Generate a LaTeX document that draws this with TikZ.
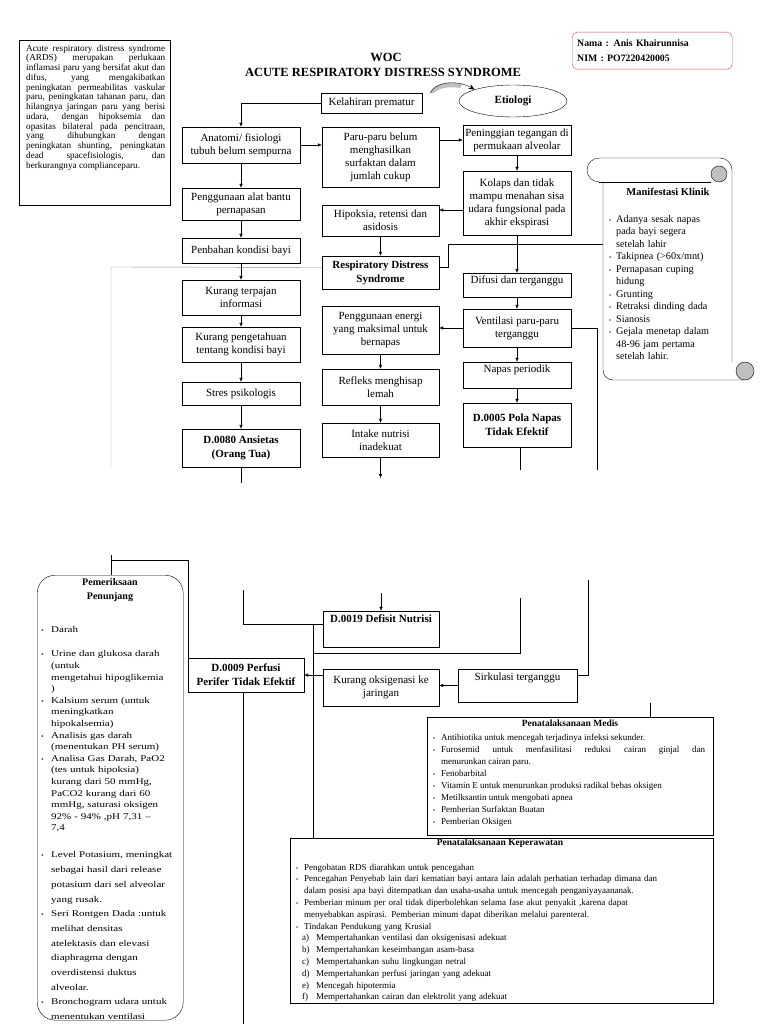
\documentclass[tikz,border=0pt]{standalone}
\usepackage{fontspec}
\setmainfont{Liberation Serif}
\newfontfamily\lebar[FakeStretch=1.25]{Liberation Serif}
\usetikzlibrary{
    positioning,
    calc,
    shapes.geometric,
    arrows.meta
}
\definecolor{MerahBingkai}{HTML}{C0504D}
\definecolor{AbuGulung}{HTML}{BFBFBF}
\definecolor{AbuGaris}{HTML}{8C8C8C}

\newcommand{\butir}[1][8pt]{\par\noindent\hangindent=#1\hangafter=1\makebox[#1][l]{\fontsize{6}{6}\selectfont\textbullet}\ignorespaces}
\newcommand{\subbutir}[1]{\par\noindent\hangindent=20pt\hangafter=1\hspace*{6pt}\makebox[14pt][l]{#1}\ignorespaces}

\tikzset{
    kotak/.style={draw, thin, align=center, inner xsep=0pt, inner ysep=2pt, font=\fontsize{11}{13}\selectfont},
    kotakTebal/.style={kotak, font=\fontsize{11}{14}\selectfont\bfseries},
    daftar/.style={anchor=north west, inner sep=0pt, align=left},
    panah/.style={-{Latex[length=4pt,width=3.5pt]}, thin},
    garis/.style={thin}
}

\begin{document}
\begin{tikzpicture}[x=1pt,y=-1pt]
\useasboundingbox (0,0) rectangle (768,1024);

% keterangan ARDS
\node[draw, thin, minimum width=151, minimum height=165, anchor=north west] (definisi) at (19,40) {};
\node[anchor=north west, inner sep=0pt, text width=139, align=justify,
      font=\fontsize{9.2}{9.75}\selectfont] (teksDefinisi) at (26,44.5) {%
    Acute respiratory distress syndrome\linebreak
    (ARDS) merupakan perlukaan\linebreak
    inflamasi paru yang bersifat akut dan\linebreak
    difus, yang mengakibatkan\linebreak
    peningkatan permeabilitas vaskular\linebreak
    paru, peningkatan tahanan paru, dan\linebreak
    hilangnya jaringan paru yang berisi\linebreak
    udara, dengan hipoksemia dan\linebreak
    opasitas bilateral pada pencitraan,\linebreak
    yang dihubungkan dengan\linebreak
    peningkatan shunting, peningkatan\linebreak
    dead spacefisiologis, dan\linebreak
    berkurangnya complianceparu.};

% judul
\node[font=\fontsize{12.5}{14}\selectfont\bfseries] (judul) at (386,57) {WOC};
\node[font=\fontsize{12.5}{14}\selectfont\bfseries] (subjudul) at (383,72) {ACUTE RESPIRATORY DISTRESS SYNDROME};

\node[draw=MerahBingkai, rounded corners=5pt, anchor=north west,
      minimum width=160, minimum height=37, text width=150, inner sep=5pt,
      align=left, font=\fontsize{9.8}{15}\selectfont\bfseries] (nama) at (572,32)
    {Nama : Anis Khairunnisa\\NIM : PO7220420005};

% etiologi
\node[kotak, minimum width=101, minimum height=20] (kelahiran) at (371.5,103) {Kelahiran prematur};
\node[draw, thin, ellipse, minimum width=108, minimum height=32,
      font=\fontsize{11}{12}\selectfont\bfseries] (etiologi) at (513,101) {Etiologi};
\fill[AbuGulung] ($(kelahiran.north east)+(8,0)$) .. controls (434,84) and (448,81) .. (462,84)
    -- (460,88) .. controls (449,86) and (439,88) .. ($(kelahiran.north east)+(12,0)$) -- cycle;
\draw[-{Stealth[length=6pt,width=5pt]}, thin] ($(kelahiran.north east)+(8,0)$) .. controls (436,81) and (458,80) .. (etiologi.north west);

% kolom kiri
\node[kotak, minimum width=118, minimum height=36] (anatomi) at (241,145) {Anatomi/ fisiologi\\tubuh belum sempurna};
\node[kotak, minimum width=118, minimum height=32] (alatBantu) at (241,204) {Penggunaan alat bantu\\pernapasan};
\node[kotak, minimum width=118, minimum height=25] (perubahan) at (241,250.5) {Penbahan kondisi bayi};
\node[kotak, minimum width=118, minimum height=35] (terpajan) at (241,297.5) {Kurang terpajan\\informasi};
\node[kotak, minimum width=118, minimum height=35] (pengetahuan) at (241,344.5) {Kurang pengetahuan\\tentang kondisi bayi};
\node[kotak, minimum width=118, minimum height=23] (stres) at (241,393.5) {Stres psikologis};
\node[kotakTebal, minimum width=118, minimum height=38] (ansietas) at (241,448) {D.0080 Ansietas\\(Orang Tua)};

% kolom tengah
\node[kotak, minimum width=117, minimum height=60] (paru) at (380.5,157) {Paru-paru belum\\menghasilkan\\surfaktan dalam\\jumlah cukup};
\node[kotak, minimum width=117, minimum height=31] (hipoksia) at (380.5,220.5) {Hipoksia, retensi dan\\asidosis};
\node[kotakTebal, minimum width=117, minimum height=33] (rds) at (380.5,272.5) {Respiratory Distress\\Syndrome};
\node[kotak, minimum width=117, minimum height=48] (energi) at (380.5,330) {Penggunaan energi\\yang maksimal untuk\\bernapas};
\node[kotak, minimum width=117, minimum height=36] (refleks) at (380.5,387) {Refleks menghisap\\lemah};
\node[kotak, minimum width=117, minimum height=34] (intake) at (380.5,440) {Intake nutrisi\\inadekuat};

% kolom kanan
\node[kotak, minimum width=108, minimum height=30] (peninggian) at (517,140) {Peninggian tegangan di\\permukaan alveolar};
\node[kotak, minimum width=108, minimum height=64] (kolaps) at (517,203) {Kolaps dan tidak\\mampu menahan sisa\\udara fungsional pada\\akhir ekspirasi};
\node[kotak, minimum width=108, minimum height=24, text height=8pt, text depth=12pt] (difusi) at (517,285) {Difusi dan terganggu};
\node[kotak, minimum width=108, minimum height=38] (ventilasi) at (517,328) {Ventilasi paru-paru\\terganggu};
\node[kotak, minimum width=108, minimum height=26, text height=8pt, text depth=14pt] (napas) at (517,375) {Napas periodik};
\node[kotakTebal, minimum width=108, minimum height=44] (pola) at (517,425) {D.0005 Pola Napas\\Tidak Efektif};

% manifestasi klinik (gulungan)
\draw[thin] (599,182) arc[start angle=90, end angle=270, radius=12] -- (720,158)
    arc[start angle=270, end angle=360, radius=12] -- (732,362);
\draw[thin] (599,182) -- (711,182);
\draw[thin, fill=AbuGulung] (719,174) circle (8);
\draw[thin] (603,182) -- (603,370) arc[start angle=180, end angle=90, radius=10] -- (745,380);
\draw[thin, fill=AbuGulung] (745,371) circle (9);
\coordinate (kiriGulungan) at (603,244);
\node[font=\fontsize{10.5}{12}\selectfont\bfseries] (judulManifestasi) at (668,192) {Manifestasi Klinik};
\node[daftar, text width=124, font=\fontsize{10.2}{12.5}\selectfont] (manifestasi) at (609,209.5) {%
    \butir[7pt] Adanya sesak napas\newline pada bayi segera\newline setelah lahir
    \butir[7pt] Takipnea (>60x/mnt)
    \butir[7pt] Pernapasan cuping\newline hidung
    \butir[7pt] Grunting
    \butir[7pt] Retraksi dinding dada
    \butir[7pt] Sianosis
    \butir[7pt] Gejala menetap dalam\newline 48-96 jam pertama\newline setelah lahir.\par};

% panah halaman atas
\draw[panah] (kelahiran.west) -| (anatomi.north);
\draw[panah] (anatomi.east) -- (paru.west |- anatomi.east);
\draw[panah] (paru.east |- peninggian.west) -- (peninggian.west);
\draw[panah] (anatomi) -- (alatBantu);
\draw[panah] (alatBantu) -- (perubahan);
\draw[panah] (perubahan) -- (terpajan);
\draw[panah] (terpajan) -- (pengetahuan);
\draw[panah] (pengetahuan) -- (stres);
\draw[panah] (stres) -- (ansietas);
\draw[panah] (peninggian) -- (kolaps);
\draw[panah] ($(kolaps.west)+(0,7)$) -- ($(hipoksia.east)+(0,-10.5)$);
\draw[panah] (hipoksia) -- (rds);
\draw[panah] (kolaps) -- (difusi);
\draw[panah] (difusi) -- (ventilasi);
\draw[panah] (ventilasi.west) -- (energi.east |- ventilasi.west);
\draw[panah] (energi) -- (refleks);
\draw[panah] (refleks) -- (intake);
\draw[panah] (ventilasi) -- (napas);
\draw[panah] (napas) -- (pola);
\draw[garis] ($(rds.east)+(0,-5)$) -- ++(9,0) |- (kiriGulungan);

% ujung garis halaman atas
\coordinate (kiriRds) at (111,267);
\coordinate (bawahKiri) at (111,467);
\coordinate (bawahAnsietas) at (241,483);
\coordinate (bawahIntake) at (380.5,478);
\coordinate (bawahPola) at (520,470);
\coordinate (bawahVentilasi) at (597,470);
\draw[garis, AbuGaris] ($(rds.west)+(0,-5)$) -- (kiriRds) -- (bawahKiri);
\draw[garis] (ansietas) -- (bawahAnsietas);
\draw[panah] (intake) -- (bawahIntake);
\draw[garis] (pola.south -| bawahPola) -- (bawahPola);
\draw[garis] (ventilasi.east) -| (bawahVentilasi);

% halaman bawah
\node[draw, thin, rounded corners=18pt, minimum width=146, minimum height=445,
      anchor=north west] (pemeriksaan) at (37,575) {};
\node[font=\fontsize{10}{13.5}\selectfont\bfseries, align=center] (judulPemeriksaan) at (110,590) {Pemeriksaan\\Penunjang};
\node[daftar, text width=138, font=\lebar\fontsize{8.8}{11.6}\selectfont] (periksaAtas) at (41,621) {%
    \butir[10pt] Darah\par\vspace{12.4pt}
    \butir[10pt] Urine dan glukosa darah\newline (untuk\newline mengetahui hipoglikemia\newline )
    \butir[10pt] Kalsium serum (untuk\newline meningkatkan\newline hipokalsemia)
    \butir[10pt] Analisis gas darah\newline (menentukan PH serum)
    \butir[10pt] Analisa Gas Darah, PaO2\newline (tes untuk hipoksia)\newline kurang dari 50 mmHg,\newline PaCO2 kurang dari 60\newline mmHg, saturasi oksigen\newline 92\% - 94\% ,pH 7,31 –\newline 7,4\par};
\node[daftar, text width=138, font=\lebar\fontsize{8.8}{14.7}\selectfont] (periksaBawah) at (41,843) {%
    \butir[10pt] Level Potasium, meningkat\newline sebagai hasil dari release\newline potasium dari sel alveolar\newline yang rusak.
    \butir[10pt] Seri Rontgen Dada :untuk\newline melihat densitas\newline atelektasis dan elevasi\newline diaphragma dengan\newline overdistensi duktus\newline alveolar.
    \butir[10pt] Bronchogram udara untuk\newline menentukan ventilasi\par};

\node[kotakTebal, minimum width=116, minimum height=36, text height=8pt, text depth=22pt] (defisit) at (381,629) {D.0019 Defisit Nutrisi};
\node[kotakTebal, minimum width=116, minimum height=34] (perfusi) at (246,675) {D.0009 Perfusi\\Perifer Tidak Efektif};
\node[kotak, minimum width=116, minimum height=37] (oksigenasi) at (381,687.5) {Kurang oksigenasi ke\\jaringan};
\node[kotak, minimum width=119, minimum height=33, text height=8pt, text depth=19pt] (sirkulasi) at (517.5,685.5) {Sirkulasi terganggu};

\coordinate (atasPemeriksaan) at (111,555);
\coordinate (atasAnsietas) at (243,590);
\coordinate (atasDefisit) at (381,593);
\coordinate (atasPola) at (520,598);
\coordinate (atasSirkulasi) at (588,580);
\coordinate (batang) at (313,624);
\coordinate (bawahHalaman) at (243,1024);
\coordinate (atasMedis) at (650,703);

\draw[garis] (atasPemeriksaan) -- (atasPemeriksaan |- pemeriksaan.north);
\draw[garis] ($(atasPemeriksaan)+(0,5)$) -| (perfusi.north west);
\draw[garis] (atasAnsietas) |- (defisit.west |- batang);
\draw[panah] (atasDefisit) -- (defisit.north);
\draw[garis] (atasPola) |- ($(batang)+(0,29)$);
\draw[garis] (atasSirkulasi) |- ($(sirkulasi.north east)+(0,6)$);
\draw[panah] (sirkulasi.west) -- (oksigenasi.east |- sirkulasi.west);
\draw[panah] (oksigenasi.west |- perfusi.east) -- (perfusi.east);
\draw[garis] (perfusi.south -| bawahHalaman) -- (bawahHalaman);

% penatalaksanaan medis
\node[draw, thin, minimum width=286, minimum height=118, anchor=north west] (medis) at (427,717) {};
\draw[garis] (atasMedis) -- (atasMedis |- medis.north);
\node[font=\fontsize{9.5}{11}\selectfont\bfseries] (judulMedis) at (570,723) {Penatalaksanaan Medis};
\node[daftar, text width=272, align=justify, font=\fontsize{9}{12}\selectfont] (isiMedis) at (433,728) {%
    \butir Antibiotika untuk mencegah terjadinya infeksi sekunder.
    \butir Furosemid untuk menfasilitasi reduksi cairan ginjal dan\linebreak menurunkan cairan paru.
    \butir Fenobarbital
    \butir Vitamin E untuk menurunkan produksi radikal bebas oksigen
    \butir Metilksantin untuk mengobati apnea
    \butir Pemberian Surfaktan Buatan
    \butir Pemberian Oksigen\par};

% penatalaksanaan keperawatan
\node[draw, thin, minimum width=423, minimum height=165, anchor=north west] (keperawatan) at (290,838) {};
\draw[garis] (batang) -- (batang |- keperawatan.north);
\node[font=\fontsize{9.5}{11}\selectfont\bfseries] (judulKeperawatan) at (500,843) {Penatalaksanaan Keperawatan};
\node[daftar, text width=405, font=\fontsize{9}{11.8}\selectfont] (isiKeperawatan) at (296,858) {%
    \butir Pengobatan RDS diarahkan untuk pencegahan
    \butir Pencegahan Penyebab lain dari kematian bayi antara lain adalah perhatian terhadap dimana dan\newline dalam posisi apa bayi ditempatkan dan usaha-usaha untuk mencegah penganiyayaananak.
    \butir Pemberian minum per oral tidak diperbolehkan selama fase akut penyakit ,karena dapat\newline menyebabkan aspirasi. Pemberian minum dapat diberikan melalui parenteral.
    \butir Tindakan Pendukung yang Krusial
    \subbutir{a)}Mempertahankan ventilasi dan oksigenisasi adekuat
    \subbutir{b)}Mempertahankan keseimbangan asam-basa
    \subbutir{c)}Mempertahankan suhu lingkungan netral
    \subbutir{d)}Mempertahankan perfusi jaringan yang adekuat
    \subbutir{e)}Mencegah hipotermia
    \subbutir{f)}Mempertahankan cairan dan elektrolit yang adekuat\par};
\end{tikzpicture}
\end{document}
